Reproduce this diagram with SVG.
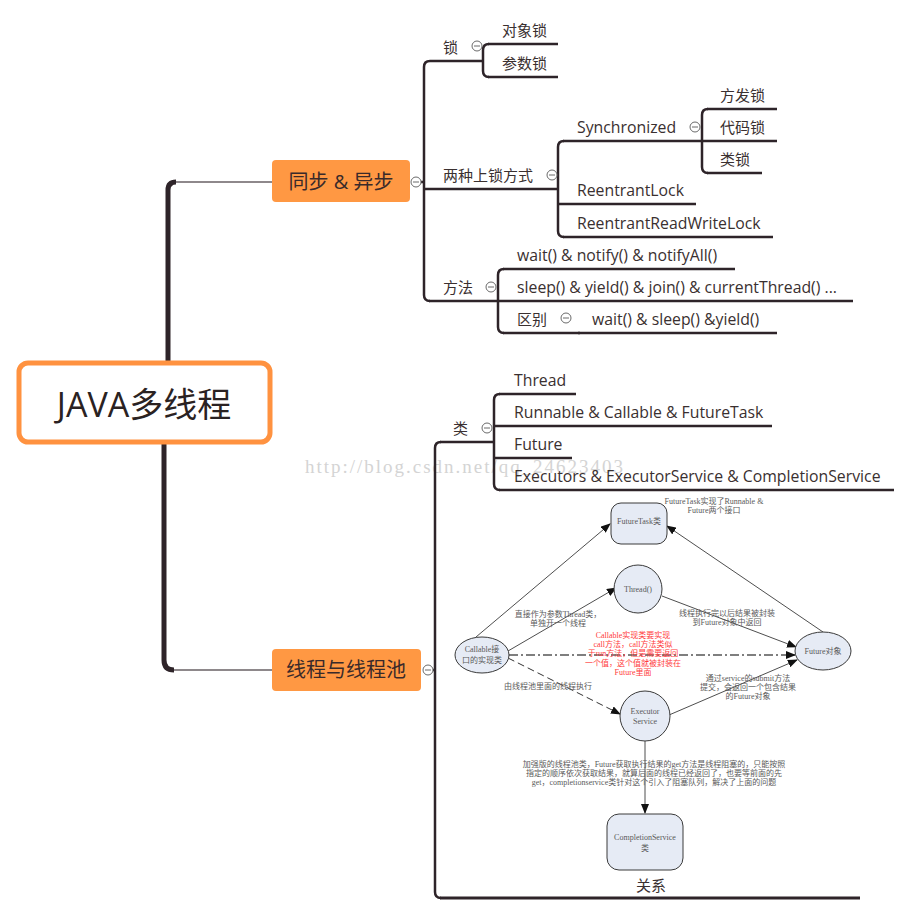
<svg xmlns="http://www.w3.org/2000/svg" width="911" height="915" viewBox="0 0 911 915">
<style>
.t{font-family:"Open Sans","Noto Sans CJK SC",sans-serif;font-size:15px;fill:#3a3030}
.l{font-size:15.8px}
.ul{stroke:#2e2429;stroke-width:2.5;fill:none}
.br{stroke:#2e2429;stroke-width:2.5;fill:none}
.tog circle{fill:#fff;stroke:#6a6a6a;stroke-width:1}
.tog line{stroke:#6a6a6a;stroke-width:1}
.box{fill:#ff9843}
.bt{font-family:"Open Sans","Noto Sans CJK SC",sans-serif;font-size:20px;fill:#3a2a2a;text-anchor:middle}
.d{font-family:"Liberation Serif","Noto Sans CJK SC",serif;font-size:8px;fill:#5a5a5a;text-anchor:middle}
.dn{fill:#e6ebf5;stroke:#3a3a3a;stroke-width:1}
.dl{stroke:#3a3a3a;stroke-width:0.9;fill:none}
.red{fill:#ff3b3b}
</style>
<defs>
<marker id="ah" markerWidth="10" markerHeight="8" refX="9" refY="4" orient="auto" markerUnits="userSpaceOnUse">
<path d="M0,0 L10,4 L0,8 Z" fill="#111"/>
</marker>
</defs>
<rect width="911" height="915" fill="#fff"/>
<text x="305" y="473" font-family="Liberation Serif,serif" font-size="19" fill="#d4d4d4" textLength="318" lengthAdjust="spacing">http://blog.csdn.net/qq_24623403</text>

<g id="connectors">
<line x1="176" y1="182" x2="272" y2="182" stroke="#8e888b" stroke-width="2"/>
<path d="M176,182 Q168,182 168,190 V362" stroke="#2e2429" stroke-width="5" fill="none"/>
<path d="M164,444 V660 Q164,670 174,670" stroke="#2e2429" stroke-width="5" fill="none"/>
<line x1="174" y1="670" x2="272" y2="670" stroke="#8e888b" stroke-width="2"/>
<line x1="421" y1="182" x2="424" y2="182" class="br"/>
<path class="br" d="M430,61 Q424,61 424,67 V295 Q424,301 430,301"/>
<path class="br" d="M489,44 Q483,44 483,50 V71 Q483,77 489,77"/>
<path class="br" d="M564,141 Q558,141 558,147 V231 Q558,237 564,237"/>
<path class="br" d="M708,109 Q702,109 702,115 V167 Q702,173 708,173"/>
<path class="br" d="M504,269 Q498,269 498,275 V327 Q498,333 504,333"/>
<line x1="433" y1="670" x2="435" y2="670" class="br"/>
<path class="br" d="M441,442 Q435,442 435,448 V892 Q435,898 441,898"/>
<path class="br" d="M500,394 Q494,394 494,400 V484 Q494,490 500,490"/>
</g>

<g id="root">
<rect x="19" y="363" width="251" height="79" rx="9" fill="#fff" stroke="#ff9240" stroke-width="5"/>
<text x="144" y="417" font-family="Open Sans,Noto Sans CJK SC,sans-serif" font-size="34" fill="#2a2222" text-anchor="middle">JAVA多线程</text>
</g>

<g id="sync">
<rect class="box" x="272" y="160" width="138" height="42" rx="4"/>
<text class="bt" x="341" y="189">同步 &amp; 异步</text>
<g class="tog"><circle cx="416" cy="182" r="5"/><line x1="413" y1="182" x2="419" y2="182"/></g>
</g>

<g id="pool">
<rect class="box" x="272" y="649" width="149" height="42" rx="4"/>
<text class="bt" x="346" y="677">线程与线程池</text>
<g class="tog"><circle cx="428" cy="670" r="5"/><line x1="425" y1="670" x2="431" y2="670"/></g>
</g>

<g id="lock">
<text class="t" x="443" y="53">锁</text>
<line class="ul" x1="430" y1="61" x2="483" y2="61"/>
<g class="tog"><circle cx="477" cy="46" r="5"/><line x1="474" y1="46" x2="480" y2="46"/></g>
</g>
<g id="objlock"><text class="t" x="502" y="36">对象锁</text><line class="ul" x1="488" y1="44" x2="558" y2="44"/></g>
<g id="paramlock"><text class="t" x="502" y="69">参数锁</text><line class="ul" x1="488" y1="77" x2="558" y2="77"/></g>

<g id="twoways">
<text class="t" x="443" y="181">两种上锁方式</text>
<line class="ul" x1="424" y1="189" x2="558" y2="189"/>
<g class="tog"><circle cx="552" cy="175" r="5"/><line x1="549" y1="175" x2="555" y2="175"/></g>
</g>
<g id="synchronized">
<text class="t l" x="577" y="133">Synchronized</text>
<line class="ul" x1="563" y1="141" x2="702" y2="141"/>
<g class="tog"><circle cx="695" cy="127" r="5"/><line x1="692" y1="127" x2="698" y2="127"/></g>
</g>
<g id="methodlock"><text class="t" x="720" y="101">方发锁</text><line class="ul" x1="707" y1="109" x2="777" y2="109"/></g>
<g id="codelock"><text class="t" x="720" y="133">代码锁</text><line class="ul" x1="702" y1="141" x2="777" y2="141"/></g>
<g id="classlock"><text class="t" x="720" y="165">类锁</text><line class="ul" x1="707" y1="173" x2="762" y2="173"/></g>
<g id="reentrant"><text class="t l" x="577" y="196">ReentrantLock</text><line class="ul" x1="558" y1="204" x2="696" y2="204"/></g>
<g id="rrwl"><text class="t l" x="577" y="229">ReentrantReadWriteLock</text><line class="ul" x1="563" y1="237" x2="773" y2="237"/></g>

<g id="methods">
<text class="t" x="443" y="293">方法</text>
<line class="ul" x1="429" y1="301" x2="498" y2="301"/>
<g class="tog"><circle cx="491" cy="287" r="5"/><line x1="488" y1="287" x2="494" y2="287"/></g>
</g>
<g id="wait"><text class="t l" x="517" y="261">wait() &amp; notify() &amp; notifyAll()</text><line class="ul" x1="503" y1="269" x2="735" y2="269"/></g>
<g id="sleep"><text class="t l" x="517" y="293">sleep() &amp; yield() &amp; join() &amp; currentThread() ...</text><line class="ul" x1="498" y1="301" x2="853" y2="301"/></g>
<g id="diff">
<text class="t" x="517" y="325">区别</text>
<line class="ul" x1="503" y1="333" x2="580" y2="333"/>
<g class="tog"><circle cx="566" cy="318" r="5"/><line x1="563" y1="318" x2="569" y2="318"/></g>
</g>
<g id="waitsleep"><text class="t l" x="592" y="325">wait() &amp; sleep() &amp;yield()</text><line class="ul" x1="578" y1="333" x2="777" y2="333"/></g>

<g id="cls">
<text class="t" x="453" y="434">类</text>
<line class="ul" x1="440" y1="442" x2="494" y2="442"/>
<g class="tog"><circle cx="487" cy="428" r="5"/><line x1="484" y1="428" x2="490" y2="428"/></g>
</g>
<g id="thread"><text class="t l" x="514" y="386">Thread</text><line class="ul" x1="499" y1="394" x2="576" y2="394"/></g>
<g id="runnable"><text class="t l" x="514" y="418">Runnable &amp; Callable &amp; FutureTask</text><line class="ul" x1="494" y1="426" x2="772" y2="426"/></g>
<g id="future"><text class="t l" x="514" y="450">Future</text><line class="ul" x1="494" y1="458" x2="572" y2="458"/></g>
<g id="executors"><text class="t l" x="514" y="482">Executors &amp; ExecutorService &amp; CompletionService</text><line class="ul" x1="499" y1="490" x2="894" y2="490"/></g>

<g id="relation">
<text class="t" x="651" y="891" text-anchor="middle">关系</text>
<line x1="440" y1="898" x2="860" y2="898" stroke="#2e2429" stroke-width="3"/>
</g>

<g id="relation-diagram">
<g id="diagram-edges">
<line class="dl" x1="476" y1="637" x2="610" y2="524" marker-end="url(#ah)"/>
<line class="dl" x1="508" y1="651" x2="616" y2="588" marker-end="url(#ah)"/>
<line x1="509" y1="655" x2="795" y2="655" stroke="#555" stroke-width="1.5" stroke-dasharray="9,3,2,3" marker-end="url(#ah)"/>
<line x1="508" y1="658" x2="620" y2="714" stroke="#333" stroke-width="1" stroke-dasharray="7,4" marker-end="url(#ah)"/>
<line class="dl" x1="662" y1="596" x2="796" y2="647" marker-end="url(#ah)"/>
<line class="dl" x1="823" y1="632" x2="667" y2="526" marker-end="url(#ah)"/>
<line class="dl" x1="669" y1="715" x2="797" y2="660" marker-end="url(#ah)"/>
<line class="dl" x1="645" y1="741" x2="645" y2="813" marker-end="url(#ah)"/>
</g>
<g id="d-futuretask"><rect class="dn" x="611" y="503" width="56" height="41" rx="10"/><text class="d" x="639" y="524">FutureTask类</text></g>
<g id="d-thread"><circle class="dn" cx="638" cy="589" r="24"/><text class="d" x="638" y="592">Thread()</text></g>
<g id="d-callable"><ellipse class="dn" cx="482" cy="655" rx="27" ry="18"/><text class="d" x="482" y="652">Callable接</text><text class="d" x="482" y="663">口的实现类</text></g>
<g id="d-future"><ellipse class="dn" cx="823" cy="651" rx="28" ry="19"/><text class="d" x="823" y="654">Future对象</text></g>
<g id="d-executor"><circle class="dn" cx="645" cy="716" r="25"/><text class="d" x="645" y="714">Executor</text><text class="d" x="645" y="724">Service</text></g>
<g id="d-completion"><rect class="dn" x="607" y="814" width="76" height="56" rx="12"/><text class="d" x="645" y="840">CompletionService</text><text class="d" x="645" y="851">类</text></g>
<g id="diagram-labels">
<text class="d" x="714" y="504">FutureTask实现了Runnable &amp;</text>
<text class="d" x="714" y="513">Future两个接口</text>
<text class="d" x="558" y="617">直接作为参数Thread类，</text>
<text class="d" x="558" y="626">单独开一个线程</text>
<text class="d" x="727" y="616">线程执行完以后结果被封装</text>
<text class="d" x="727" y="625">到Future对象中返回</text>
<text class="d red" x="633" y="638">Callable实现类要实现</text>
<text class="d red" x="633" y="647">call方法，call方法类似</text>
<text class="d red" x="633" y="656">于run方法，但是需要返回</text>
<text class="d red" x="633" y="666">一个值，这个值就被封装在</text>
<text class="d red" x="633" y="675">Future里面</text>
<text class="d" x="548" y="689">由线程池里面的线程执行</text>
<text class="d" x="748" y="681">通过service的submit方法</text>
<text class="d" x="748" y="690">提交，会返回一个包含结果</text>
<text class="d" x="748" y="699">的Future对象</text>
<text class="d" x="654" y="767">加强版的线程池类，Future获取执行结果的get方法是线程阻塞的，只能按照</text>
<text class="d" x="654" y="776">指定的顺序依次获取结果，就算后面的线程已经返回了，也要等前面的先</text>
<text class="d" x="654" y="785">get，completionservice类针对这个引入了阻塞队列，解决了上面的问题</text>
</g>
</g>
</svg>
